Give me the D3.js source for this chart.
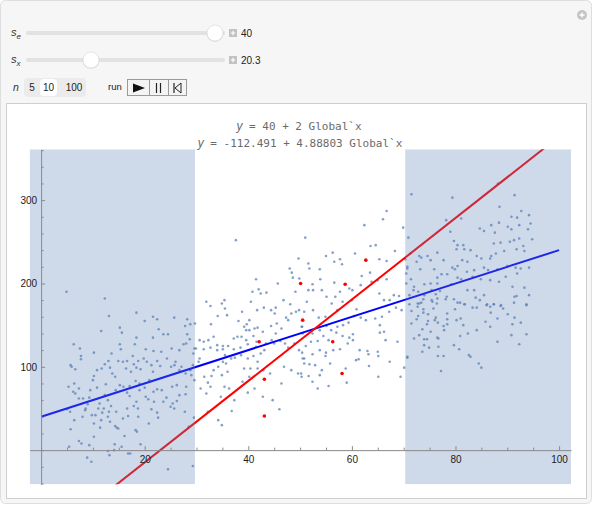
<!DOCTYPE html>
<html>
<head>
<meta charset="utf-8">
<script src="https://cdn.jsdelivr.net/npm/d3@7"></script>
<style>
  body { margin: 0; background: #fff; }
  svg { display: block; font-family: "Liberation Sans", Arial, sans-serif; }
</style>
</head>
<body>
<div id="chart"></div>
<script>
// ===== data ===============================================================
const leftPts = [[4.9,190],[12.3,182],[13.1,161],[18.4,165],[21.6,160],[22.4,157],[20.0,155],[25.7,159],[28.2,157],[11.6,143],[15.2,147],[15.6,141],[22.7,145],[23.6,139],[24.5,139],[21.6,135],[18.4,135],[6.3,127],[7.5,122],[7.7,113],[7.7,109],[10.2,117],[13.6,116],[15.2,127],[15.4,121],[18.1,127],[17.7,113],[20.2,121],[21.7,119],[23.2,118],[25.2,122],[26.7,120],[27.5,127],[28.0,128],[28.7,133],[28.2,139],[27.8,149],[28.8,151],[29.7,152],[29.6,122],[29.4,116],[29.3,102],[5.7,102],[5.9,100],[6.6,97],[6.4,80],[5.3,76],[6.2,70],[7.3,74],[6.6,68],[7.3,62],[8.1,62],[9.3,63],[9.5,72],[10.2,89],[10.0,84],[10.8,96],[10.8,75],[11.7,98],[12.3,103],[13.0,107],[13.3,99],[13.75,92],[14.3,88],[14.9,107],[15.8,106],[16.4,98],[16.6,107],[17.35,94],[17.9,103],[18.4,99],[19.2,97],[18.75,107],[19.8,110],[20.4,106],[21.3,102],[21.6,94],[22.4,107],[23.0,101],[24.3,110],[25.1,100],[25.75,102],[25.95,106],[26.7,96],[27.1,100],[27.9,92],[28.8,96],[29.0,90],[28.0,76],[27.9,67],[29.6,84],[5.0,49],[5.6,46],[6.4,36],[5.7,25],[5.4,4],[7.3,11],[7.8,8],[8.5,48],[9.0,55],[9.3,6],[10.2,16],[11.4,27],[11.6,36],[11.8,45],[12.1,50],[12.9,40],[13.1,46],[13.3,34],[13.5,53],[14.3,29],[14.6,27],[14.2,7],[14.9,26],[15.55,4],[16.1,17],[16.6,50],[16.8,41],[17.1,65],[17.9,53],[18.4,58],[18.7,50],[18.75,40],[19.2,7],[18.25,24],[18.5,22],[20.2,64],[20.7,61],[20.8,32],[21.3,49],[21.8,58],[22.4,45],[22.6,39],[23.3,72],[23.6,58],[24.2,63],[25.0,52],[25.4,56],[25.7,50],[26.2,59],[27.75,46],[29.5,39],[28.5,28],[12.9,-1],[13.2,-6],[14.1,0],[16.8,-4],[17.2,-4],[8.9,-9],[9.7,-14],[24.5,-23],[29.3,-19],[14.4,72],[15.2,78],[12.3,66],[12.9,60],[11.3,56],[11.05,50],[10.5,42],[9.8,42],[12.5,79],[15.9,76],[16.6,69],[17.1,77],[18.25,83],[19.0,80],[19.0,72],[20.0,75],[20.9,84],[22.4,73],[21.7,70],[25.3,76],[26.2,78],[26.7,66],[8.6,50],[8.0,40],[10.2,32],[15.8,38],[14.5,46]];

const midPts = [[37.6,252],[49.7,230],[48.0,218],[48.4,213],[48.6,207],[45.7,200],[41.5,205],[42.0,193],[42.4,188],[40.8,190],[43.5,189],[40.5,178],[38.8,166],[31.9,178],[32.7,173],[34.9,176],[35.4,180],[35.5,170],[34.1,161],[35.9,162],[32.8,151],[38.1,155],[39.2,148],[40.2,156],[39.7,151],[39.6,144],[40.2,144],[41.8,147],[41.2,146],[41.7,168],[43.0,171],[44.4,168],[45.3,171],[45.1,164],[46.8,180],[47.3,159],[47.7,156],[48.3,164],[48.1,175],[49.1,190],[49.8,168],[50.3,148],[50.5,140],[49.2,166],[46.4,146],[45.3,140],[44.5,132],[43.1,120],[41.6,130],[41.0,137],[39.6,132],[38.7,136],[37.9,136],[37.2,134],[36.1,125],[35.1,125],[34.0,126],[33.3,136],[32.3,132],[31.4,130],[30.6,132],[29.9,122],[31.4,121],[32.7,123],[34.0,120],[35.1,121],[35.5,114],[37.2,121],[38.5,123],[39.9,127],[41.5,124],[42.4,116],[43.4,128],[45.0,128],[46.2,131],[47.1,128],[48.9,128],[49.8,120],[50.5,110],[46.9,100],[48.3,96],[49.6,92],[50.3,88],[46.4,80],[44.2,92],[42.9,96],[41.8,98],[41.0,113],[39.9,110],[38.6,114],[37.4,111],[36.7,110],[35.7,104],[35.1,106],[34.2,100],[33.3,96],[32.9,89],[31.5,88],[30.6,110],[30.4,106],[32.2,81],[32.7,76],[30.8,74],[31.9,68],[35.4,76],[34.7,64],[36.3,74],[38.9,82],[40.2,88],[39.9,69],[41.2,74],[42.8,64],[44.7,60],[37.3,60],[36.8,47],[34.9,30],[34.2,36],[32.2,46],[46.0,49],[41.8,106],[40.4,98],[39.2,98],[36.0,94],[34.9,90],[47.7,123],[45.5,152],[44.4,149],[42.8,142],
  [51.0,255],[63.6,245],[64.6,246],[56.3,237],[55.0,233],[51.6,224],[51.8,218],[53.8,217],[56.6,226],[57.7,229],[58.1,223],[60.6,236],[65.3,229],[66.7,227],[68.3,239],[66.7,287],[66.0,277],[62.4,270],[69.9,267],[49.85,206],[52.4,199],[52.5,192],[51.6,192],[53.9,205],[54.2,192],[56.6,201],[56.8,184],[57.7,190],[59.5,194],[60.1,192],[61.7,198],[61.9,209],[63.5,213],[63.8,202],[65.0,204],[66.7,205],[65.3,188],[66.2,180],[67.3,180],[68.1,186],[69.1,185],[69.6,168],[68.5,171],[67.2,166],[65.8,160],[65.4,150],[64.5,158],[62.7,156],[61.7,159],[60.9,169],[60.0,180],[58.2,178],[57.2,168],[56.1,176],[55.1,184],[54.9,160],[53.6,159],[52.5,168],[51.3,178],[50.8,166],[50.4,148],[52.4,140],[53.8,144],[55.1,149],[56.0,144],[57.2,148],[58.3,150],[59.35,153],[60.4,161],[60.2,139],[59.5,135],[58.2,137],[57.0,141],[55.5,132],[54.5,137],[53.4,131],[52.1,130],[51.1,125],[50.4,117],[50.8,110],[52.4,115],[53.8,120],[55.0,117],[56.4,120],[57.7,121],[59.2,128],[60.2,132],[61.5,120],[61.3,109],[63.0,119],[63.2,115],[65.0,118],[65.1,113],[66.2,142],[65.4,141],[66.5,132],[68.8,130],[67.3,106],[63.3,101],[60.8,108],[58.8,98],[55.8,104],[54.9,113],[52.9,102],[51.8,103],[50.8,104],[50.2,92],[51.65,89],[52.4,82],[53.4,74],[54.2,96],[55.5,77],[59.0,81],[65.1,88],[69.4,88],[53.8,90]];

const rightPts = [[70.3,229],[70.7,220],[70.5,212],[70.5,200],[70.7,112],[70.1,99],[88.2,320],
  [71.5,307],[79.4,303],[91.4,306],[78.2,276],[88.5,292],[92.7,287],[94.2,282],[90.8,280],[91.9,279],[94.5,272],[81.1,278],[86.9,270],[88.4,273],[90.1,268],[90.8,265],[92.3,270],[94.0,265],[85.5,263],[87.6,261],[84.7,266],[79.0,262],[79.7,251],[80.4,246],[80.2,241],[81.5,246],[81.7,241],[70.9,255],[87.4,248],[88.7,249],[90.5,250],[91.3,252],[92.3,254],[94.8,253],[93.1,245],[93.3,239],[91.8,241],[89.4,239],[87.8,236],[86.9,233],[86.7,230],[85.0,230],[84.1,233],[82.9,240],[82.3,226],[81.3,228],[80.4,221],[79.4,219],[77.7,228],[76.5,237],[75.2,228],[74.6,233],[73.0,233],[73.4,231],[72.5,226],[71.3,236],[70.7,218],[73.2,217],[75.9,217],[77.3,211],[76.5,207],[78.4,211],[79.9,217],[82.2,214],[83.6,216],[85.5,219],[86.3,216],[88.1,217],[90.0,221],[91.6,219],[92.6,218],[94.2,219],[91.9,212],[89.7,208],[88.4,202],[86.7,204],[84.9,205],[83.3,208],[81.1,205],[80.4,207],[79.2,199],[76.5,200],[75.2,200],[74.0,199],[72.0,196],[71.4,205],[71.9,192],[71.1,186],[72.8,190],[74.0,186],[75.4,192],[76.2,187],[77.0,191],[78.3,184],[78.1,181],[76.5,182],[75.4,180],[73.8,181],[72.7,176],[71.1,175],[72.7,172],[79.7,181],[80.4,177],[81.7,175],[82.3,192],[83.6,192],[83.9,183],[85.5,186],[86.1,175],[87.4,175],[88.7,173],[91.0,196],[91.8,185],[93.3,195],[94.2,186],[93.7,175],[91.4,184],
  [71.5,167],[73.0,176],[73.4,177],[73.8,169],[73.8,165],[74.7,163],[75.75,170],[76.4,176],[75.55,178],[78.4,164],[79.9,169],[80.9,177],[81.8,175],[83.3,171],[84.1,171],[84.7,180],[86.0,174],[86.7,172],[87.4,175],[88.8,174],[89.2,170],[86.8,165],[90.1,163],[91.3,177],[93.7,174],[91.4,159],[88.1,158],[85.8,154],[86.7,148],[91.0,151],[92.6,153],[90.8,138],[93.7,139],[92.3,127],[88.1,130],[84.1,144],[82.4,140],[81.5,150],[80.9,137],[80.2,156],[81.0,158],[78.4,157],[78.4,151],[77.7,149],[77.8,144],[76.6,153],[76.2,159],[76.0,156],[74.7,155],[74.5,151],[72.8,161],[72.5,157],[71.5,152],[73.0,138],[72.0,134],[73.6,145],[73.95,133],[74.5,133],[75.2,142],[76.5,135],[76.7,134],[73.95,126],[74.9,123],[76.7,124],[79.7,126],[80.7,121],[82.6,114],[82.9,112],[84.5,104],[85.0,99],[77.7,113],[76.6,113],[73.6,118],[70.7,111],[77.2,95]];

// the n = 10 sample (red)
const redPts = [[42.1,130],[43.1,85],[43.1,41],[50.1,200],[50.5,156],[56.3,130],[58.1,92],[58.7,199],[62.7,228]];

// true line, fitted line, mean +/- s_x band edges
const trueLine = { a: 40, b: 2 };
const fitLine = { a: -112.491, b: 4.88803 };
const shadeRanges = [[-2.2, 29.7], [70.3, 102.3]];
const xMajor = [20, 40, 60, 80, 100];
const yMajor = [100, 200, 300];

// ===== frame ==============================================================
const W = 594, H = 506;
const svg = d3.select('#chart').append('svg').attr('width', W).attr('height', H);

svg.append('rect').attr('x', 0.5).attr('y', 0.5).attr('width', 591).attr('height', 503)
  .attr('rx', 5).attr('fill', '#f6f6f6').attr('stroke', '#dedede');

// corner icon
const ic = svg.append('g').attr('transform', 'translate(582,15)');
ic.append('circle').attr('r', 5).attr('fill', '#c4c4c4');
ic.append('path').attr('d', 'M-2.6,0H2.6M0,-2.6V2.6').attr('stroke', '#fff').attr('stroke-width', 1.4);

// ===== controls ===========================================================
function slider(y, knobX, sub, val){
  const lab = svg.append('text').attr('x', 11).attr('y', y + 3).attr('font-size', 11).attr('fill', '#333');
  lab.append('tspan').attr('font-style', 'italic').text('s');
  lab.append('tspan').attr('font-style', 'italic').attr('font-size', 8).attr('dy', 3).text(sub);
  svg.append('rect').attr('x', 26).attr('y', y - 2).attr('width', 199).attr('height', 4)
    .attr('rx', 2).attr('fill', '#e2e2e2');
  svg.append('circle').attr('cx', knobX).attr('cy', y + 0.5).attr('r', 8.5).attr('fill', '#d0d0d0').attr('opacity', 0.6);
  svg.append('circle').attr('cx', knobX).attr('cy', y).attr('r', 8).attr('fill', '#fff').attr('stroke', '#d6d6d6').attr('stroke-width', 0.6);
  svg.append('rect').attr('x', 229).attr('y', y - 4).attr('width', 8).attr('height', 8).attr('fill', '#c2c2c2');
  svg.append('path').attr('d', `M230.8,${y}H235.2M233,${y-2.2}V${y+2.2}`).attr('stroke', '#fff').attr('stroke-width', 1.2);
  svg.append('text').attr('x', 241).attr('y', y + 4).attr('font-size', 10).attr('fill', '#222').text(val);
}
slider(33, 215, 'e', '40');
slider(60, 91, 'x', '20.3');

svg.append('text').attr('x', 13).attr('y', 91).attr('font-size', 10.5).attr('font-style', 'italic').attr('fill', '#333').text('n');
svg.append('rect').attr('x', 24).attr('y', 78).attr('width', 62).attr('height', 19).attr('rx', 4).attr('fill', '#ebebeb');
svg.append('rect').attr('x', 40).attr('y', 79).attr('width', 17).attr('height', 17).attr('rx', 4).attr('fill', '#fff');
[['5', 32], ['10', 48.5], ['100', 74]].forEach(d => {
  svg.append('text').attr('x', d[1]).attr('y', 91).attr('text-anchor', 'middle').attr('font-size', 10).attr('fill', '#222').text(d[0]);
});
svg.append('text').attr('x', 108).attr('y', 90).attr('font-size', 9.5).attr('fill', '#222').text('run');
const btnX = [127, 149, 168];
const btnW = [22, 19, 18];
btnX.forEach((bx, i) => {
  svg.append('rect').attr('x', bx + 0.5).attr('y', 79.5).attr('width', btnW[i]).attr('height', 16)
    .attr('fill', '#f4f4f4').attr('stroke', '#9a9a9a');
});
svg.append('path').attr('d', 'M133,83.5L145,88L133,92.5Z').attr('fill', '#111');
svg.append('path').attr('d', 'M156.5,83V93M160.5,83V93').attr('stroke', '#222').attr('stroke-width', 1.2);
svg.append('path').attr('d', 'M174,83V93').attr('stroke', '#222').attr('stroke-width', 1.2);
svg.append('path').attr('d', 'M181,83L175,88L181,93Z').attr('fill', 'none').attr('stroke', '#222').attr('stroke-width', 1);

// ===== plot pane ==========================================================
svg.append('rect').attr('x', 6.5).attr('y', 103.5).attr('width', 580).attr('height', 395)
  .attr('fill', '#fff').attr('stroke', '#cfcfcf');

const title = svg.append('g').attr('font-family', '"DejaVu Sans Mono", monospace').attr('font-size', 11).attr('fill', '#6a6a6a');
const t1 = title.append('text').attr('x', 299).attr('y', 130).attr('text-anchor', 'middle');
t1.append('tspan').attr('font-style', 'italic').attr('font-family', '"Liberation Sans", sans-serif').attr('font-size', 12).text('y');
t1.append('tspan').text(` = ${trueLine.a} + ${trueLine.b} Global\`x`);
const t2 = title.append('text').attr('x', 300).attr('y', 147).attr('text-anchor', 'middle');
t2.append('tspan').attr('font-style', 'italic').attr('font-family', '"Liberation Sans", sans-serif').attr('font-size', 12).text('y');
t2.append('tspan').text(` = ${fitLine.a} + ${fitLine.b} Global\`x`);

const x = d3.scaleLinear().domain([-2.2, 102.3]).range([29.7, 571]);
const y = d3.scaleLinear().domain([-41, 361]).range([484.3, 149.3]);

svg.append('clipPath').attr('id', 'plotclip').append('rect')
  .attr('x', x(-2.2)).attr('y', y(361)).attr('width', x(102.3) - x(-2.2)).attr('height', y(-41) - y(361));
const plot = svg.append('g').attr('clip-path', 'url(#plotclip)');

const allPts = leftPts.concat(midPts, rightPts);
plot.selectAll('circle.pt').data(allPts).enter().append('circle')
  .attr('class', 'pt')
  .attr('cx', d => x(d[0])).attr('cy', d => y(d[1])).attr('r', 1.3)
  .attr('fill', '#5e81b5').attr('opacity', 0.75);

plot.selectAll('circle.red').data(redPts).enter().append('circle')
  .attr('class', 'red')
  .attr('cx', d => x(d[0])).attr('cy', d => y(d[1])).attr('r', 1.8)
  .attr('fill', '#ff0000');

plot.append('path')
  .attr('d', d3.line().x(d => x(d)).y(d => y(trueLine.a + trueLine.b * d))([0, 100]))
  .attr('stroke', '#0000ff').attr('stroke-width', 2).attr('fill', 'none');
plot.append('path')
  .attr('d', d3.line().x(d => x(d)).y(d => y(fitLine.a + fitLine.b * d))([-2.2, 102.3]))
  .attr('stroke', '#ff0000').attr('stroke-width', 2).attr('fill', 'none');

// shaded outer ranges drawn over the data, translucent
plot.selectAll('rect.shade').data(shadeRanges).enter().append('rect')
  .attr('class', 'shade')
  .attr('x', d => x(d[0])).attr('width', d => x(d[1]) - x(d[0]))
  .attr('y', y(361)).attr('height', y(-41) - y(361))
  .attr('fill', '#5e81b5').attr('opacity', 0.3);

// ===== axes ===============================================================
const xMinor = d3.range(0, 101, 5).filter(v => xMajor.indexOf(v) < 0);
const yMinor = d3.range(-40, 361, 20).filter(v => yMajor.indexOf(v) < 0);

const gx = svg.append('g').attr('transform', `translate(0,${y(0)})`);
gx.call(d3.axisBottom(x).tickValues(xMajor).tickSize(-4).tickSizeOuter(0).tickPadding(6));
const gxm = svg.append('g').attr('transform', `translate(0,${y(0)})`);
gxm.call(d3.axisBottom(x).tickValues(xMinor).tickSize(-2.5).tickSizeOuter(0).tickFormat(''));
gxm.select('.domain').remove();

const gy = svg.append('g').attr('transform', `translate(${x(0)},0)`);
gy.call(d3.axisLeft(y).tickValues(yMajor).tickSize(-4).tickSizeOuter(0).tickPadding(4));
const gym = svg.append('g').attr('transform', `translate(${x(0)},0)`);
gym.call(d3.axisLeft(y).tickValues(yMinor).tickSize(-2.5).tickSizeOuter(0).tickFormat(''));
gym.select('.domain').remove();

[gx, gxm, gy, gym].forEach(g => {
  g.selectAll('.domain, line').attr('stroke', '#8a8a8a');
  g.selectAll('text').attr('font-size', 10).attr('fill', '#222').attr('font-family', '"Liberation Sans", Arial, sans-serif');
});
</script>
</body>
</html>
